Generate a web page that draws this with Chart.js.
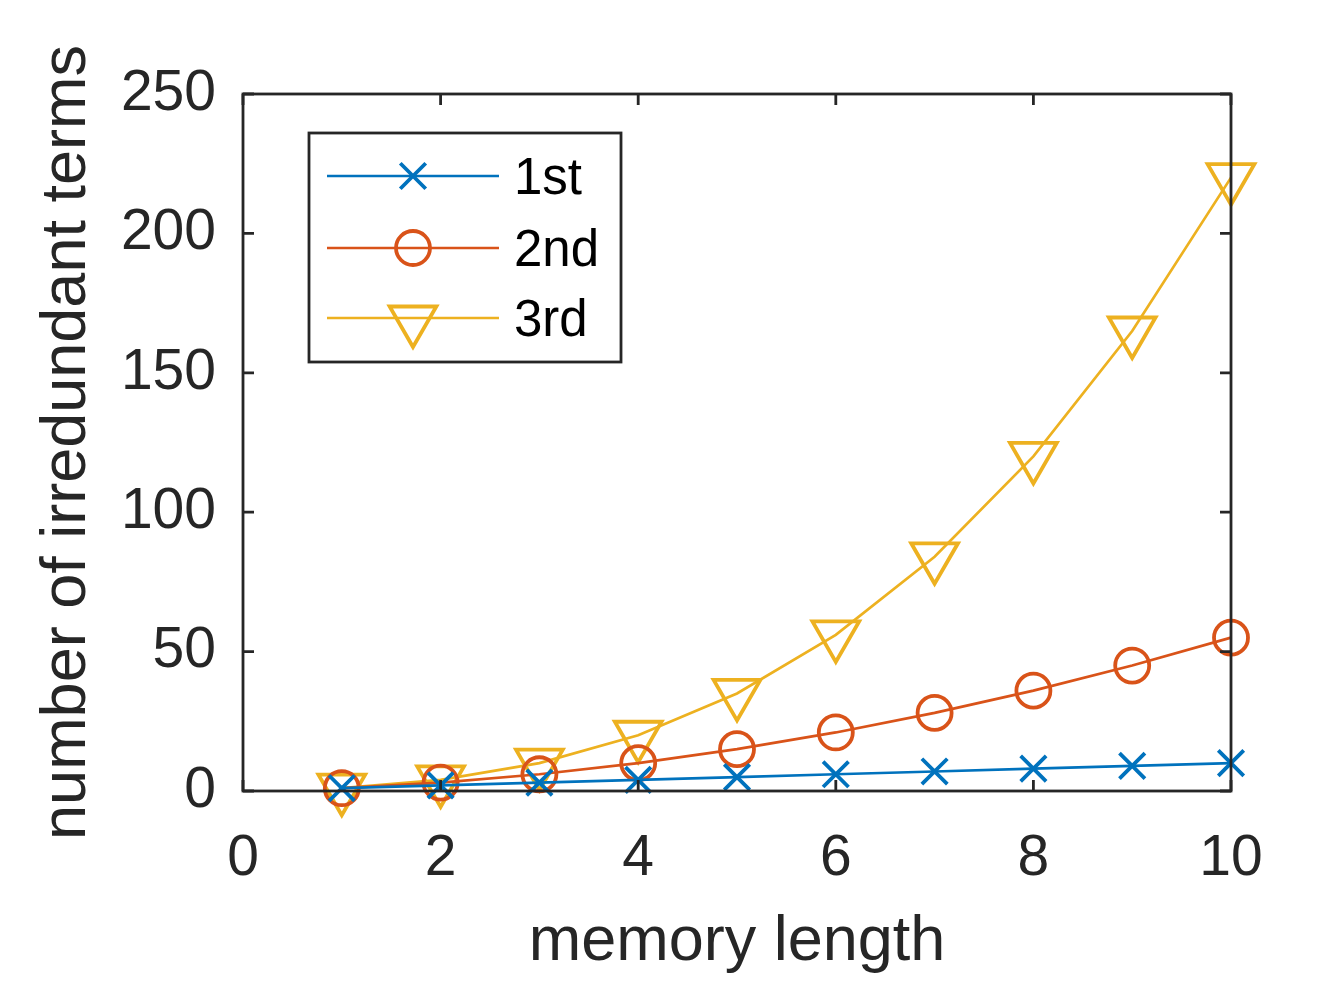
<!DOCTYPE html>
<html>
<head>
<meta charset="utf-8">
<script src="https://cdn.jsdelivr.net/npm/chart.js@4/dist/chart.umd.min.js"></script>
<style>
html,body{margin:0;padding:0;background:#fff;}
#wrap{width:1320px;height:1004px;position:relative;}
</style>
</head>
<body>
<div id="wrap"><canvas id="c" width="1320" height="1004"></canvas></div>
<script>
const memoryLength = [1,2,3,4,5,6,7,8,9,10];
const first = [1,2,3,4,5,6,7,8,9,10];
const second = [1,3,6,10,15,21,28,36,45,55];
const third = [1,4,10,20,35,56,84,120,165,220];
const seriesNames = ['1st','2nd','3rd'];
const xTicks = [0,2,4,6,8,10];
const yTicks = [0,50,100,150,200,250];

const C1='#0072BD', C2='#D95319', C3='#EDB120';
const FONT="'Liberation Sans', Arial, Helvetica, sans-serif";
const AX='#262626';

function pts(arr){return memoryLength.map((x,i)=>({x:x,y:arr[i]}));}

const boxPlugin = {
  id:'boxPlugin',
  afterDatasetsDraw(chart){
    const {ctx, chartArea:a, scales:{x,y}} = chart;
    ctx.save();
    ctx.strokeStyle=AX; ctx.lineWidth=2.8;
    ctx.strokeRect(a.left,a.top,a.right-a.left,a.bottom-a.top);
    const tl=11;
    ctx.beginPath();
    xTicks.forEach(v=>{const p=x.getPixelForValue(v);
      ctx.moveTo(p,a.bottom);ctx.lineTo(p,a.bottom-tl);
      ctx.moveTo(p,a.top);ctx.lineTo(p,a.top+tl);});
    yTicks.forEach(v=>{const p=y.getPixelForValue(v);
      ctx.moveTo(a.left,p);ctx.lineTo(a.left+tl,p);
      ctx.moveTo(a.right,p);ctx.lineTo(a.right-tl,p);});
    ctx.stroke();
    // legend
    const lx=309, ly=133, lw=312, lh=229;
    ctx.fillStyle='#fff'; ctx.fillRect(lx,ly,lw,lh);
    ctx.strokeStyle=AX; ctx.lineWidth=2.8; ctx.strokeRect(lx,ly,lw,lh);
    const rows=[176,248,318];
    chart.data.datasets.forEach((ds,i)=>{
      const yy=rows[i];
      ctx.strokeStyle=ds.borderColor; ctx.lineWidth=ds.borderWidth;
      ctx.beginPath();ctx.moveTo(327,yy);ctx.lineTo(499,yy);ctx.stroke();
      ctx.strokeStyle=ds.borderColor; ctx.fillStyle='rgba(0,0,0,0)'; ctx.lineWidth=ds.pointBorderWidth;
      Chart.helpers.drawPoint(ctx,{pointStyle:ds.pointStyle,radius:ds.pointRadius,rotation:ds.pointRotation||0,borderWidth:ds.pointBorderWidth},413,yy+(i===2?2:0));
      ctx.fillStyle='#000'; ctx.font='51px '+FONT; ctx.textBaseline='middle'; ctx.textAlign='left';
      ctx.fillText(ds.label,514,yy+4);
    });
    ctx.restore();
  }
};

const mk=(label,data,color,style,r,rot)=>({
  label, data:pts(data), borderColor:color, backgroundColor:'rgba(0,0,0,0)',
  pointBorderColor:color, pointBackgroundColor:'rgba(0,0,0,0)',
  borderWidth:2.7, pointStyle:style, pointRadius:r, pointRotation:rot||0,
  pointBorderWidth:3.8, pointHoverRadius:r, tension:0, clip:false
});

new Chart(document.getElementById('c'),{
  type:'line',
  data:{datasets:[
    mk(seriesNames[0],first,C1,'crossRot',18),
    mk(seriesNames[1],second,C2,'circle',17),
    mk(seriesNames[2],third,C3,'triangle',27,180)
  ]},
  options:{
    responsive:false, animation:false, devicePixelRatio:1,
    layout:{padding:{left:0,top:94,right:89,bottom:0}},
    plugins:{legend:{display:false},tooltip:{enabled:false}},
    scales:{
      x:{type:'linear',min:0,max:10,
        afterBuildTicks(s){s.ticks=xTicks.map(v=>({value:v}));},
        afterFit(s){s.height=213;},
        grid:{display:false,drawTicks:false},border:{display:false},
        ticks:{color:AX,font:{family:FONT,size:57},padding:34,maxRotation:0},
        title:{display:true,text:'memory length',color:AX,font:{family:FONT,size:63},padding:{top:0,bottom:24}}
      },
      y:{type:'linear',min:0,max:250,
        afterBuildTicks(s){s.ticks=yTicks.map(v=>({value:v}));},
        afterFit(s){s.width=243;},
        grid:{display:false,drawTicks:false},border:{display:false},
        ticks:{color:AX,font:{family:FONT,size:57},padding:27},
        title:{display:true,text:'number of irredundant terms',color:AX,font:{family:FONT,size:63},padding:{top:30,bottom:0}}
      }
    }
  },
  plugins:[boxPlugin]
});
</script>
</body>
</html>
